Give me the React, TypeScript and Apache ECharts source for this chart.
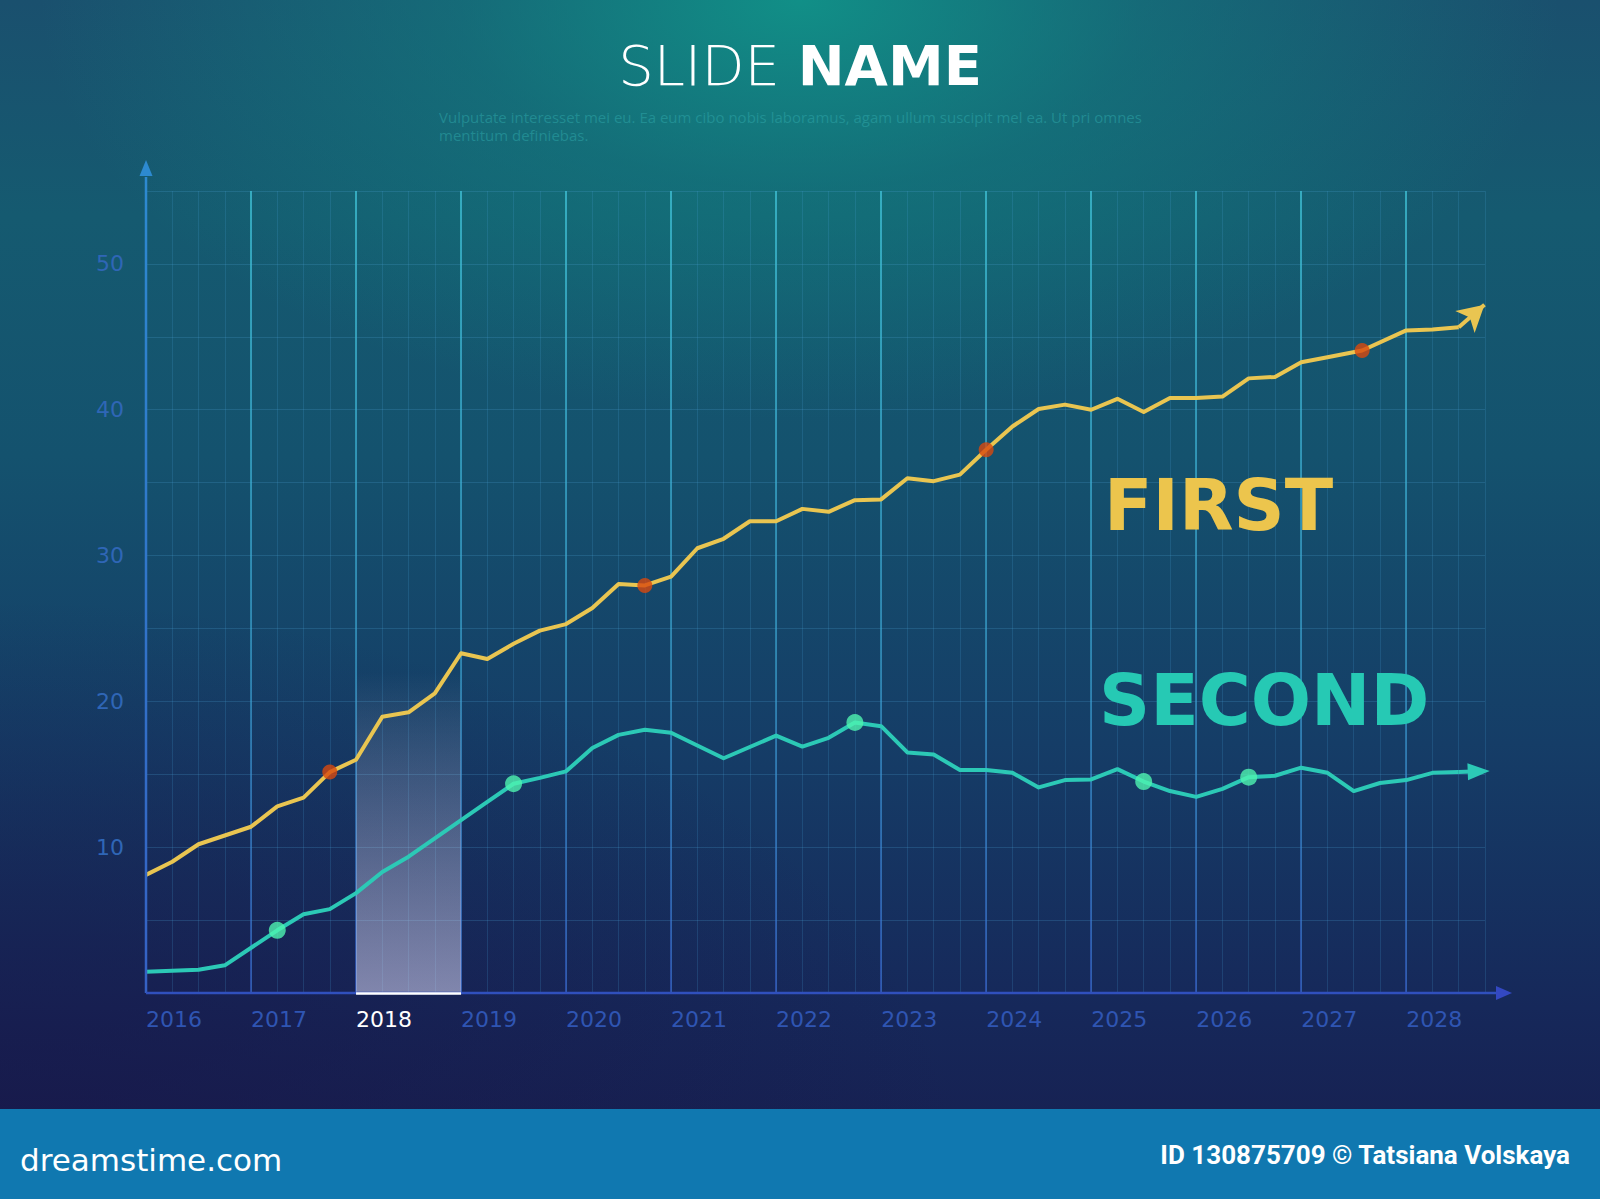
import React, { useEffect, useRef } from "react";
import * as echarts from "echarts";

// ---------- data ----------
const FIRST_YEARS = [
  2016, 2016.25, 2016.5, 2016.75, 2017, 2017.25, 2017.5, 2017.75, 2018, 2018.25,
  2018.5, 2018.75, 2019, 2019.25, 2019.5, 2019.75, 2020, 2020.25, 2020.5, 2020.75,
  2021, 2021.25, 2021.5, 2021.75, 2022, 2022.25, 2022.5, 2022.75, 2023, 2023.25,
  2023.5, 2023.75, 2024, 2024.25, 2024.5, 2024.75, 2025, 2025.25, 2025.5, 2025.75,
  2026, 2026.25, 2026.5, 2026.75, 2027, 2027.25, 2027.58, 2028, 2028.25, 2028.5,
];
const FIRST_VALUES = [
  8.1, 9.0, 10.2, 10.8, 11.4, 12.8, 13.4, 15.15, 16.0, 18.95,
  19.25, 20.55, 23.3, 22.9, 23.95, 24.85, 25.3, 26.4, 28.05, 27.95,
  28.55, 30.5, 31.15, 32.35, 32.35, 33.2, 33.0, 33.8, 33.85, 35.3,
  35.1, 35.55, 37.25, 38.85, 40.05, 40.35, 40.0, 40.75, 39.85, 40.8,
  40.8, 40.9, 42.15, 42.25, 43.25, 43.6, 44.06, 45.44, 45.5, 45.65,
];
const SECOND_YEARS = [
  2016, 2016.5, 2016.75, 2017.25, 2017.5, 2017.75, 2018, 2018.25, 2018.5, 2018.75,
  2019, 2019.25, 2019.5, 2019.75, 2020, 2020.25, 2020.5, 2020.75, 2021, 2021.5,
  2022, 2022.25, 2022.5, 2022.75, 2023, 2023.25, 2023.5, 2023.75, 2024, 2024.25,
  2024.5, 2024.75, 2025, 2025.25, 2025.5, 2025.75, 2026, 2026.25, 2026.5, 2026.75,
  2027, 2027.25, 2027.5, 2027.75, 2028, 2028.25, 2028.5,
];
const SECOND_VALUES = [
  1.45, 1.6, 1.9, 4.3, 5.4, 5.75, 6.85, 8.3, 9.35, 10.6,
  11.85, 13.1, 14.35, 14.75, 15.2, 16.8, 17.7, 18.05, 17.85, 16.1,
  17.65, 16.9, 17.5, 18.55, 18.3, 16.5, 16.35, 15.3, 15.3, 15.1,
  14.1, 14.6, 14.65, 15.35, 14.5, 13.85, 13.45, 14.0, 14.8, 14.9,
  15.45, 15.1, 13.85, 14.4, 14.6, 15.1, 15.15,
];
// last segment of each line, drawn with an arrow head (head centre inside the axis range)
const FIRST_ARROW = [[2028.5, 45.65], [2028.745, 47.2]];
const SECOND_ARROW = [[2028.5, 15.15], [2028.69, 15.2]];
const FIRST_DOTS = [[2017.75, 15.15], [2020.75, 27.95], [2024, 37.25], [2027.58, 44.06]];
const SECOND_DOTS = [[2017.25, 4.3], [2019.5, 14.35], [2022.75, 18.55], [2025.5, 14.5], [2026.5, 14.8]];
const HIGHLIGHT_YEARS = [2018, 2019];
const HIGHLIGHT_TOP = 22;
const X_MIN = 2016;
const X_MAX = 2028.75;
const Y_MAX = 55;
const Y_LABELS = [10, 20, 30, 40, 50];
const TITLE_LIGHT = "SLIDE ";
const TITLE_BOLD = "NAME";
const SUBTITLE_LINES = [
  "Vulputate interesset mei eu. Ea eum cibo nobis laboramus, agam ullum suscipit mel ea. Ut pri omnes",
  "mentitum definiebas.",
];
const FIRST_NAME = "FIRST";
const SECOND_NAME = "SECOND";
const FOOTER_LEFT = "dreamstime.com";
const FOOTER_RIGHT = "ID 130875709 © Tatsiana Volskaya";

// ---------- colours ----------
const YELLOW = "#e9c551";
const RED = "#d8480e";
const TEAL = "#2cc9b6";
const MINT = "#4ff4b0";

const GRID = { left: 146, top: 191, width: 1339, height: 802 };

export default function App() {
  const ref = useRef<HTMLDivElement | null>(null);

  useEffect(() => {
    if (!ref.current) return;
    const chart = echarts.init(ref.current, undefined, { renderer: "svg" });
    const gTop = GRID.top;
    const gBot = GRID.top + GRID.height;
    const gLeft = GRID.left;
    const gRight = GRID.left + GRID.width;

    const pairs = (xs: number[], ys: number[]) => xs.map((x, i) => [x, ys[i]]);

    const majorGrad = new echarts.graphic.LinearGradient(
      0, gTop, 0, gBot,
      [
        { offset: 0, color: "rgba(62,196,212,0.75)" },
        { offset: 0.6, color: "rgba(58,165,210,0.6)" },
        { offset: 1, color: "rgba(55,95,205,0.65)" },
      ],
      true
    );
    const yAxisGrad = new echarts.graphic.LinearGradient(
      0, gTop - 20, 0, gBot,
      [
        { offset: 0, color: "#2d8ad0" },
        { offset: 1, color: "#3561c4" },
      ],
      true
    );

    const subtitleTexts = SUBTITLE_LINES.map((line, i) => ({
      type: "text",
      x: 439,
      y: 117 + i * 18,
      z: 4,
      silent: true,
      style: {
        text: line,
        fill: "rgba(45,165,168,0.55)",
        fontFamily: "Open Sans",
        fontSize: 15,
        align: "left",
        verticalAlign: "middle",
      },
    }));

    const option: any = {
      animation: false,
      backgroundColor: "transparent",
      title: {
        text: `{a|${TITLE_LIGHT}}{b|${TITLE_BOLD}}`,
        left: "center",
        top: 32,
        textStyle: {
          rich: {
            a: { fontFamily: "DejaVu Sans", fontWeight: 200, fontSize: 56, lineHeight: 56, color: "#ffffff" },
            b: { fontFamily: "DejaVu Sans", fontWeight: "bold", fontSize: 56, lineHeight: 56, color: "#ffffff" },
          },
        },
      },
      grid: { ...GRID, containLabel: false },
      xAxis: [
        {
          type: "value",
          min: X_MIN,
          max: X_MAX,
          interval: 1,
          axisLine: { show: false },
          axisTick: { show: false },
          axisLabel: {
            show: true,
            showMaxLabel: false,
            align: "left",
            margin: 15,
            color: "#2f55b2",
            fontFamily: "DejaVu Sans",
            fontSize: 22,
            formatter: (v: number) => {
              if (!Number.isInteger(v)) return "";
              if (v === HIGHLIGHT_YEARS[0]) return `{h|${v}}`;
              return `${v}`;
            },
            rich: { h: { color: "#ffffff", fontFamily: "DejaVu Sans", fontSize: 22 } },
          },
          splitLine: {
            show: true,
            showMinLine: false,
            showMaxLine: false,
            lineStyle: { color: majorGrad, width: 2 },
          },
        },
        {
          type: "value",
          position: "top",
          min: X_MIN,
          max: X_MAX,
          interval: 0.25,
          axisLine: { show: false },
          axisTick: { show: false },
          axisLabel: { show: false },
          splitLine: {
            show: true,
            showMinLine: false,
            lineStyle: { color: "rgba(70,160,215,0.2)", width: 1 },
          },
        },
      ],
      yAxis: {
        type: "value",
        min: 0,
        max: Y_MAX,
        interval: 5,
        axisLine: { show: false },
        axisTick: { show: false },
        axisLabel: {
          margin: 22,
          color: "#2f66b6",
          fontFamily: "DejaVu Sans",
          fontSize: 22,
          formatter: (v: number) => (Y_LABELS.includes(v) ? `${v}` : ""),
        },
        splitLine: {
          show: true,
          showMinLine: false,
          lineStyle: { color: "rgba(75,160,210,0.24)", width: 1 },
        },
      },
      series: [
        {
          name: FIRST_NAME,
          type: "line",
          xAxisIndex: 0,
          data: pairs(FIRST_YEARS, FIRST_VALUES),
          symbol: "none",
          lineStyle: { color: YELLOW, width: 4, join: "round" },
          z: 3,
          silent: true,
          markLine: {
            silent: true,
            animation: false,
            label: { show: false },
            emphasis: { disabled: true },
            lineStyle: { color: YELLOW, width: 4, type: "solid" },
            data: [
              [
                { coord: FIRST_ARROW[0], symbol: "none" },
                { coord: FIRST_ARROW[1], symbol: "arrow", symbolSize: [22, 26] },
              ],
            ],
          },
        },
        {
          name: SECOND_NAME,
          type: "line",
          xAxisIndex: 0,
          data: pairs(SECOND_YEARS, SECOND_VALUES),
          symbol: "none",
          lineStyle: { color: TEAL, width: 4, join: "round" },
          z: 3,
          silent: true,
          markArea: {
            silent: true,
            itemStyle: {
              color: new echarts.graphic.LinearGradient(0, 0, 0, 1, [
                { offset: 0, color: "rgba(255,255,255,0)" },
                { offset: 0.35, color: "rgba(230,230,250,0.2)" },
                { offset: 1, color: "rgba(215,215,245,0.55)" },
              ]),
            },
            data: [
              [
                { xAxis: HIGHLIGHT_YEARS[0], yAxis: 0 },
                { xAxis: HIGHLIGHT_YEARS[1], yAxis: HIGHLIGHT_TOP },
              ],
            ],
          },
          markLine: {
            silent: true,
            animation: false,
            label: { show: false },
            emphasis: { disabled: true },
            lineStyle: { color: TEAL, width: 4, type: "solid" },
            data: [
              [
                { coord: SECOND_ARROW[0], symbol: "none" },
                { coord: SECOND_ARROW[1], symbol: "triangle", symbolSize: [17, 22] },
              ],
              [
                { coord: [HIGHLIGHT_YEARS[0], 0], symbol: "none", lineStyle: { color: "#ffffff", width: 2.5 } },
                { coord: [HIGHLIGHT_YEARS[1], 0], symbol: "none" },
              ],
            ],
          },
        },
        {
          type: "scatter",
          xAxisIndex: 0,
          data: FIRST_DOTS,
          symbolSize: 15,
          itemStyle: { color: RED },
          z: 5,
          silent: true,
        },
        {
          type: "scatter",
          xAxisIndex: 0,
          data: SECOND_DOTS,
          symbolSize: 17,
          itemStyle: { color: MINT },
          z: 5,
          silent: true,
        },
      ],
      graphic: [
        // axes with arrows
        {
          type: "line",
          z: 4,
          shape: { x1: gLeft, y1: gBot, x2: gLeft, y2: gTop - 14 },
          style: { stroke: yAxisGrad, lineWidth: 2.5 },
          silent: true,
        },
        {
          type: "polygon",
          z: 4,
          shape: { points: [[gLeft - 6.5, gTop - 15], [gLeft, gTop - 31], [gLeft + 6.5, gTop - 15]] },
          style: { fill: "#2d8ad0" },
          silent: true,
        },
        {
          type: "line",
          z: 4,
          shape: { x1: gLeft, y1: gBot, x2: gRight + 13, y2: gBot },
          style: { stroke: "#3050bd", lineWidth: 2.5 },
          silent: true,
        },
        {
          type: "polygon",
          z: 4,
          shape: { points: [[gRight + 11, gBot - 7], [gRight + 27, gBot], [gRight + 11, gBot + 7]] },
          style: { fill: "#3348c2" },
          silent: true,
        },
        // subtitle
        ...subtitleTexts,
        // series names
        {
          type: "text",
          x: 1104,
          y: 505,
          z: 6,
          silent: true,
          style: {
            text: FIRST_NAME,
            fill: "#ecc54d",
            fontFamily: "DejaVu Sans",
            fontWeight: "bold",
            fontSize: 71,
            align: "left",
            verticalAlign: "middle",
          },
        },
        {
          type: "text",
          x: 1099,
          y: 700,
          z: 6,
          silent: true,
          style: {
            text: SECOND_NAME,
            fill: "#26c9b4",
            fontFamily: "DejaVu Sans",
            fontWeight: "bold",
            fontSize: 71,
            align: "left",
            verticalAlign: "middle",
          },
        },
        // footer
        {
          type: "rect",
          z: 10,
          silent: true,
          shape: { x: 0, y: 1109, width: 1600, height: 90 },
          style: { fill: "#1078b0" },
        },
        {
          type: "text",
          x: 20,
          y: 1160,
          z: 11,
          silent: true,
          style: {
            text: FOOTER_LEFT,
            fill: "#ffffff",
            fontFamily: "DejaVu Sans",
            fontSize: 31,
            align: "left",
            verticalAlign: "middle",
          },
        },
        {
          type: "text",
          x: 1570,
          y: 1155,
          z: 11,
          silent: true,
          style: {
            text: FOOTER_RIGHT,
            fill: "#ffffff",
            fontFamily: "Liberation Sans Narrow, Roboto, sans-serif",
            fontWeight: "bold",
            fontSize: 26,
            align: "right",
            verticalAlign: "middle",
          },
        },
      ],
    };

    chart.setOption(option);
    return () => chart.dispose();
  }, []);

  return (
    <div
      ref={ref}
      style={{
        position: "fixed",
        left: 0,
        top: 0,
        width: 1600,
        height: 1199,
        background:
          "radial-gradient(ellipse 760px 420px at 50% 0%, rgba(16,150,138,0.9) 0%, rgba(16,138,132,0.45) 45%, rgba(16,120,130,0) 100%)," +
          "radial-gradient(ellipse 1300px 800px at 0% 100%, rgba(24,22,72,0.75) 0%, rgba(24,22,72,0) 75%)," +
          "linear-gradient(180deg, #1a506e 0%, #155a70 18%, #14526e 38%, #153d67 62%, #16285a 84%, #171d4e 100%)",
      }}
    />
  );
}
